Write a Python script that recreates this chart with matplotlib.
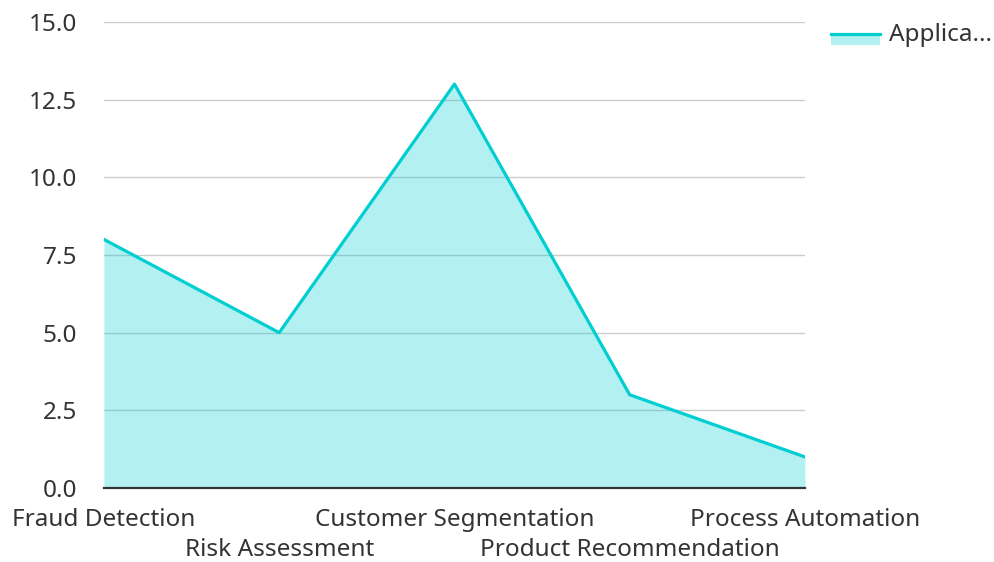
import matplotlib
matplotlib.use("Agg")
import matplotlib.pyplot as plt
from matplotlib.patches import Rectangle
from matplotlib.lines import Line2D

categories = ["Fraud Detection", "Risk Assessment", "Customer Segmentation",
              "Product Recommendation", "Process Automation"]
values = [8, 5, 13, 3, 1]
yticks = [0.0, 2.5, 5.0, 7.5, 10.0, 12.5, 15.0]
series_name = "Applica..."

LINE = "#00CED1"
TEXT = "#333333"
FS = 17.5

plt.rcParams["font.family"] = ["Noto Sans", "DejaVu Sans"]

fig = plt.figure(figsize=(9.95, 5.62), dpi=100)
ax = fig.add_axes([0.1045, 0.1317, 0.7045, 0.8292])

x = list(range(len(categories)))
ax.fill_between(x, values, 0, color=LINE, alpha=0.3, linewidth=0, zorder=2)
ax.plot(x, values, color=LINE, linewidth=2.3, zorder=3)

ax.set_xlim(0, len(categories) - 1)
ax.set_ylim(0, 15)
ax.set_yticks(yticks)
ax.set_yticklabels([f"{v:.1f}" for v in yticks])
ax.grid(axis="y", color="#cccccc", linewidth=1, zorder=1)
ax.set_axisbelow(True)

# staggered category labels (two rows, like the original)
ax.set_xticks(x)
ax.set_xticklabels([])
for i, name in enumerate(categories):
    off = -0.068 if i % 2 == 0 else -0.1335
    ax.text(i, off, name, transform=ax.get_xaxis_transform(),
            ha="center", va="center", fontsize=FS, color=TEXT)

ax.tick_params(axis="both", length=0, labelsize=FS, labelcolor=TEXT)
ax.tick_params(axis="y", pad=19.5)
for s in ["top", "right", "left"]:
    ax.spines[s].set_visible(False)
ax.spines["bottom"].set_color(TEXT)
ax.spines["bottom"].set_linewidth(1.6)
ax.spines["bottom"].set_zorder(4)

# legend drawn by hand: light patch with line on top
fig.add_artist(Rectangle((831 / 995, 1 - 45 / 562), 49 / 995, 12 / 562,
                         transform=fig.transFigure, facecolor=LINE, alpha=0.3,
                         edgecolor="none"))
fig.add_artist(Line2D([831 / 995, 880 / 995], [1 - 34 / 562, 1 - 34 / 562],
                      transform=fig.transFigure, color=LINE, linewidth=2.3))
fig.text(889 / 995, 1 - 35 / 562, series_name, ha="left", va="center",
         fontsize=FS, color=TEXT)

fig.savefig("out.png", dpi=100)
